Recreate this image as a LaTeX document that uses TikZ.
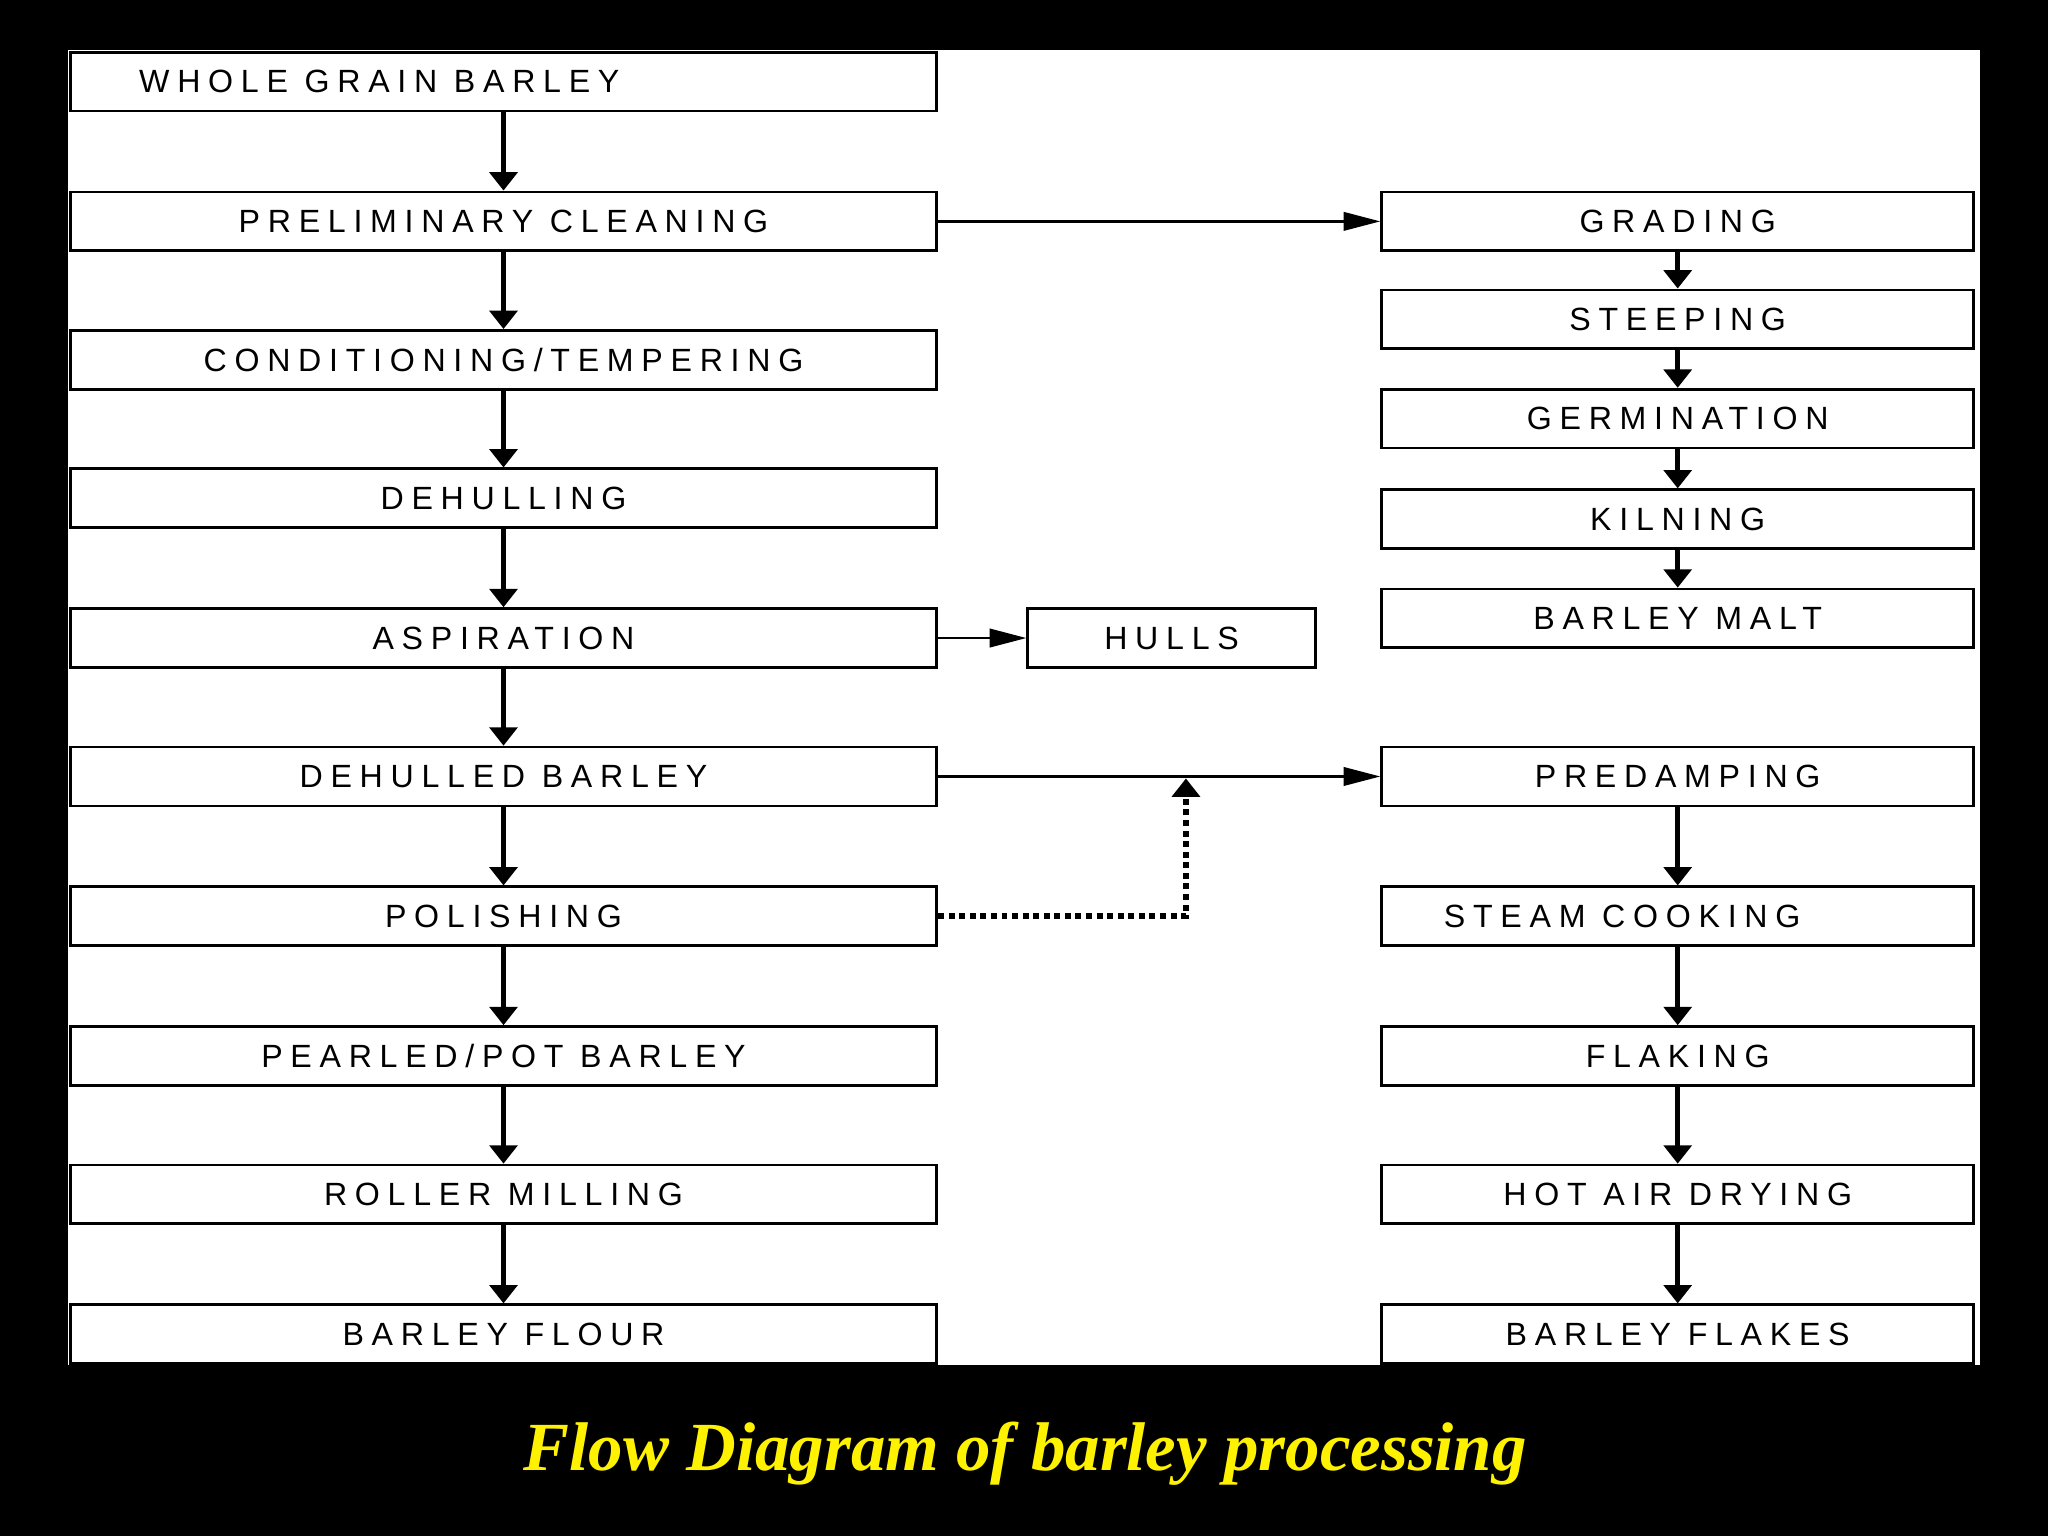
\documentclass[tikz,border=0pt]{standalone}
\usepackage{fontspec}
\setmainfont{Liberation Serif}
\newfontfamily\boxfont{Liberation Sans}[LetterSpace=24]
\usetikzlibrary{arrows.meta}
\begin{document}
\begin{tikzpicture}[x=0.01cm,y=-0.01cm]
  \tikzset{stage/.style={draw=black,line width=0.6pt,fill=white,minimum height=0.45cm,inner sep=0pt,
             font=\boxfont\fontsize{7}{8}\selectfont},
           left/.style={stage,minimum width=6.63cm},
           right/.style={stage,minimum width=4.53cm},
           down/.style={line width=1.1pt,-{Triangle[width=6pt,length=4pt]}},
           side/.style={line width=0.6pt,-{Triangle[width=4pt,length=8pt]}}}
  \fill[black] (0,0) rectangle (1568,1176);
  \fill[white] (52,38) rectangle (1516,1045);
  % left column
  \node[left] (whole)   at (385.5,62.5)  {WHOLE GRAIN BARLEY\hspace*{1.9cm}};
  \node[left] (clean)   at (385.5,169.5) {PRELIMINARY CLEANING};
  \node[left] (cond)    at (385.5,275.5) {CONDITIONING/TEMPERING};
  \node[left] (dehull)  at (385.5,381.5) {DEHULLING};
  \node[left] (aspir)   at (385.5,488.5) {ASPIRATION};
  \node[left] (dbarley) at (385.5,594.5) {DEHULLED BARLEY};
  \node[left] (polish)  at (385.5,701.5) {POLISHING};
  \node[left] (pearl)   at (385.5,808.5) {PEARLED/POT BARLEY};
  \node[left] (roller)  at (385.5,914.5) {ROLLER MILLING};
  \node[left] (flour)   at (385.5,1021.5){BARLEY FLOUR};
  \node[stage,minimum width=2.2cm] (hulls) at (897,488.5) {HULLS};
  % malt column
  \node[right] (grade)  at (1284.5,169.5) {GRADING};
  \node[right] (steep)  at (1284.5,244.5) {STEEPING};
  \node[right] (germ)   at (1284.5,320.5) {GERMINATION};
  \node[right] (kiln)   at (1284.5,397.5) {KILNING};
  \node[right] (malt)   at (1284.5,473.5) {BARLEY MALT};
  % flakes column
  \node[right] (predamp) at (1284.5,594.5) {PREDAMPING};
  \node[right] (steam)   at (1284.5,701.5) {STEAM COOKING\hspace*{0.85cm}};
  \node[right] (flake)   at (1284.5,808.5) {FLAKING};
  \node[right] (hotair)  at (1284.5,914.5) {HOT AIR DRYING};
  \node[right] (flakes)  at (1284.5,1021.5){BARLEY FLAKES};
  \foreach \a/\b in {whole/clean,clean/cond,cond/dehull,dehull/aspir,aspir/dbarley,
                     dbarley/polish,polish/pearl,pearl/roller,roller/flour,
                     grade/steep,steep/germ,germ/kiln,kiln/malt,
                     predamp/steam,steam/flake,flake/hotair,hotair/flakes}
    \draw[down] (\a) -- (\b);
  \draw[side] (clean) -- (grade);
  \draw[side] (aspir) -- (hulls);
  \draw[side] (dbarley) -- (predamp);
  \coordinate (join) at (908,596);
  \draw[line width=1.3pt,densely dotted,-{Triangle[width=6pt,length=4pt]}] (polish.east) -| (join);
  \node[font=\bfseries\itshape\fontsize{15}{18}\selectfont,text=yellow] (title) at (785,1113)
    {Flow Diagram of barley processing};
\end{tikzpicture}
\end{document}
